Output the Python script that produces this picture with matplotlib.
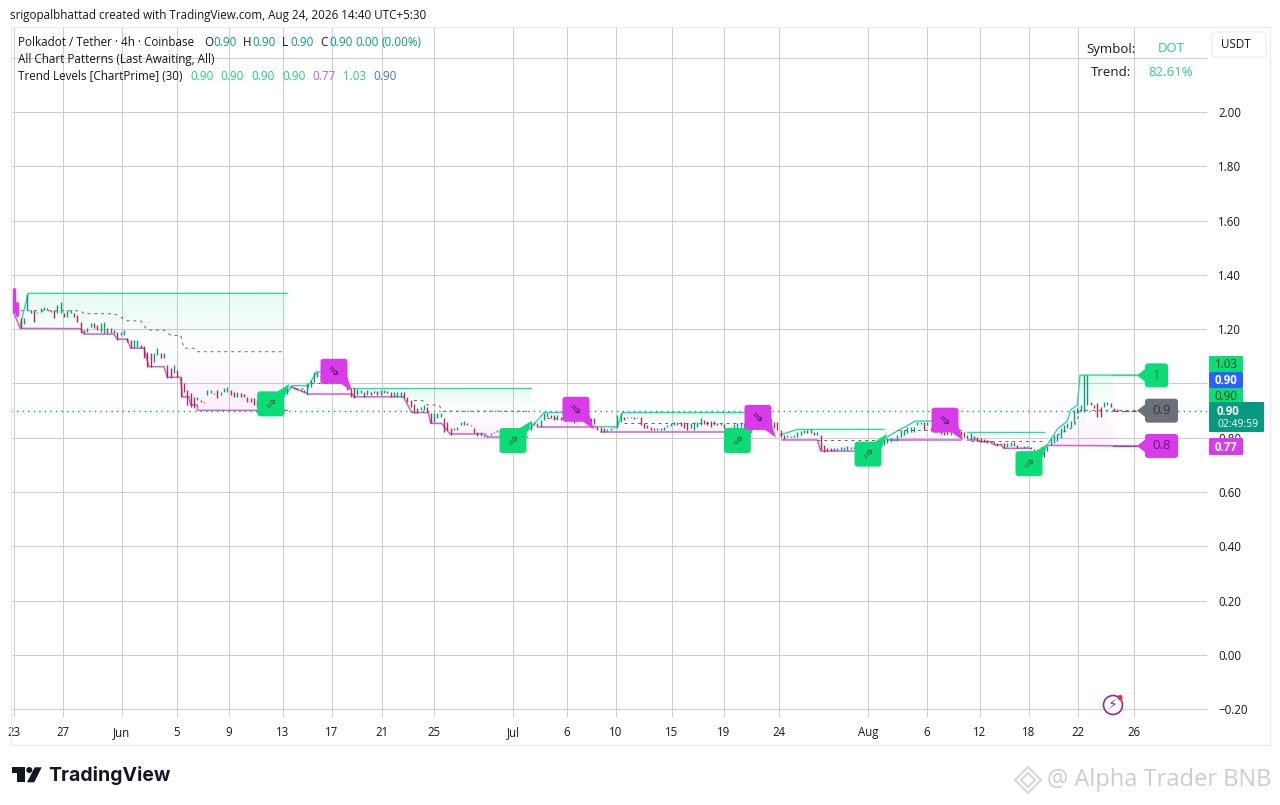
import numpy as np
import matplotlib
matplotlib.use('Agg')
import matplotlib.pyplot as plt
from matplotlib.patches import FancyBboxPatch, Polygon, Circle, Rectangle

plt.rcParams['font.family'] = ['Open Sans', 'DejaVu Sans']

# candle ranges, one pair per candle
candle_high = [1.35,1.30,1.24,1.24,1.33,1.27,1.27,1.264,1.277,1.283,1.277,1.271,1.271,1.289,1.30,1.258,1.271,1.271,1.258,1.252,
    1.228,1.197,1.203,1.222,1.222,1.215,1.222,1.228,1.203,1.203,1.197,1.191,1.191,1.197,1.166,1.16,1.16,1.16,1.142,1.138,
    1.117,1.111,1.111,1.129,1.111,1.111,1.068,1.056,1.068,1.05,1.025,1.0,.976,.964,.951,.951,.939,.933,.976,.976,
    .964,.976,.97,.982,.988,.976,.97,.97,.964,.96,.951,.945,.945,.939,.945,.95,.96,.97,.97,.964,
    .97,.97,.994,.992,.988,.982,.976,.976,1.0,1.013,1.043,1.043,1.032,1.025,1.025,1.03,1.037,1.037,1.03,1.02,
    1.0,.985,.982,.979,.976,.97,.976,.97,.973,.973,.976,.976,.973,.97,.97,.97,.97,.97,.951,.939,
    .923,.908,.915,.921,.915,.89,.89,.89,.89,.872,.859,.835,.835,.841,.859,.863,.853,.847,.835,.822,
    .822,.81,.805,.816,.822,.829,.835,.829,.829,.829,.835,.835,.835,.841,.845,.859,.859,.853,.866,.89,
    .89,.884,.884,.884,.878,.884,.89,.895,.885,.89,.89,.885,.88,.872,.872,.843,.838,.835,.832,.835,
    .841,.884,.89,.878,.878,.878,.878,.878,.878,.853,.847,.841,.835,.835,.835,.841,.847,.853,.859,.859,
    .859,.859,.853,.853,.859,.859,.872,.865,.863,.863,.863,.853,.853,.85,.829,.84,.85,.853,.853,.853,
    .86,.872,.87,.87,.87,.875,.87,.87,.86,.859,.829,.81,.81,.808,.81,.82,.825,.83,.828,.831,
    .82,.823,.81,.774,.762,.761,.761,.762,.767,.767,.77,.765,.765,.767,.775,.774,.775,.775,.774,.78,
    .782,.804,.798,.798,.795,.81,.829,.829,.841,.84,.841,.859,.859,.859,.859,.835,.835,.84,.83,.82,
    .82,.823,.83,.83,.825,.823,.81,.816,.806,.804,.798,.796,.792,.79,.786,.78,.78,.78,.78,.785,
    .786,.775,.767,.768,.768,.765,.76,.76,.765,.77,.768,.798,.81,.815,.835,.848,.853,.862,.903,.908,
    .92,1.031,1.03,.933,.92,.927,.915,.933,.933,.927,.908,.905,.903]
candle_low = [1.26,1.25,1.203,1.22,1.27,1.258,1.228,1.258,1.264,1.271,1.271,1.264,1.24,1.258,1.258,1.246,1.246,1.258,1.246,1.228,
    1.185,1.185,1.191,1.209,1.203,1.197,1.191,1.185,1.185,1.185,1.185,1.16,1.179,1.179,1.154,1.129,1.129,1.136,1.129,1.093,
    1.062,1.062,1.08,1.105,1.093,1.093,1.019,1.019,1.037,1.025,.951,.97,.921,.914,.908,.939,.933,.927,.957,.964,
    .96,.945,.957,.97,.97,.957,.951,.951,.951,.95,.933,.933,.921,.914,.93,.93,.94,.945,.95,.945,
    .95,.955,.96,.985,.982,.975,.972,.968,.958,.988,1.007,1.025,1.007,1.0,1.0,1.0,1.005,1.0,1.0,.995,
    .975,.951,.945,.958,.964,.951,.958,.958,.964,.958,.958,.964,.964,.949,.949,.951,.951,.945,.933,.915,
    .89,.89,.902,.902,.896,.853,.859,.872,.878,.822,.829,.81,.829,.829,.847,.847,.847,.845,.816,.806,
    .806,.803,.803,.81,.816,.82,.81,.816,.82,.804,.81,.816,.822,.822,.83,.829,.847,.841,.841,.866,
    .878,.872,.866,.866,.866,.866,.87,.87,.853,.87,.875,.87,.87,.859,.85,.829,.822,.822,.825,.829,
    .835,.835,.859,.866,.872,.872,.868,.872,.847,.835,.835,.829,.829,.829,.829,.829,.841,.845,.847,.847,
    .845,.835,.829,.835,.829,.841,.847,.85,.847,.841,.847,.847,.847,.835,.804,.81,.83,.835,.84,.84,
    .835,.822,.84,.84,.85,.85,.84,.84,.835,.829,.804,.794,.802,.802,.804,.804,.812,.816,.816,.816,
    .81,.81,.755,.749,.752,.752,.752,.755,.755,.755,.755,.76,.76,.76,.76,.749,.745,.75,.755,.765,
    .77,.774,.78,.786,.79,.79,.804,.81,.816,.82,.823,.847,.85,.829,.847,.825,.82,.82,.815,.81,
    .81,.81,.815,.815,.81,.804,.798,.792,.795,.79,.786,.786,.78,.78,.777,.77,.772,.761,.765,.77,
    .77,.762,.762,.762,.762,.76,.737,.74,.745,.73,.75,.775,.78,.79,.80,.82,.835,.84,.853,.89,
    .898,.896,.92,.92,.908,.878,.878,.915,.921,.915,.898,.9,.9]

# trend level segments as (candle, price)
upper_segs = [
    [(1.8,1.21),(4.2,1.332),(82,1.332)],
    [(82,.965),(83.3,.992),(88.3,.992),(90.8,1.043),(99.8,1.043)],
    [(101.8,.982),(155,.982)],
    [(154.5,.83),(158.5,.885),(159,.893),(170,.893)],
    [(175.5,.841),(181,.841),(182.5,.893),(219.5,.893)],
    [(229.8,.81),(235,.831),(261,.831)],
    [(260,.79),(265,.825),(270.5,.862),(277,.862)],
    [(286,.822),(309,.822)],
    [(310.3,.78),(313,.832),(316,.862),(317,.903),(319,.92),(319.8,1.031),(336.8,1.031)],
]
lower_segs = [
    [(0,1.26),(1.8,1.203),(20,1.202),(21,1.182),(30,1.182),(31,1.163),(34,1.163),(35,1.13),(39,1.13),(40.5,1.062),(45,1.062),(46,1.023),(50,1.023),
     (50.5,.951),(52.5,.951),(53,.921),(55,.921),(55,.901),(82,.901)],
    [(83.3,.988),(88.3,.961),(101.5,.961),(102,.951)],
    [(102,.951),(116.8,.951),(119.3,.893),(124.3,.893),(125,.853),(128.3,.853),(130.8,.814),(141.3,.814),(142,.803),(154,.803)],
    [(157.5,.841),(175,.841)],
    [(176,.8226),(213,.8226)],
    [(230.4,.792),(241,.792),(242,.751),(252,.751)],
    [(262,.792),(284,.792)],
    [(286,.792),(289,.792),(290,.786),(293,.786),(294,.774),(296,.774),(297,.761),(305,.761)],
    [(309.8,.772),(336.8,.77)],
]
mid_segs = [
    [(2,1.268),(20,1.268),(21,1.257),(30,1.257),(32,1.245),(34,1.231),(38,1.231),(40,1.197),(45,1.197),(47,1.177),(50,1.177),(51,1.13),(54,1.13),(55,1.117),(81,1.117)],
    [(84,.98),(88,.98),(89,1.0),(98,1.0)],
    [(120,.937),(122.5,.937),(124,.921),(127.5,.921),(128.5,.898),(155,.898)],
    [(160,.872),(170,.872)],
    [(183,.855),(220,.855)],
    [(241,.792),(260,.792)],
    [(265,.83),(285,.83)],
    [(287,.79),(309,.79)],
    [(313,.81),(318,.84),(320,.901),(336.8,.901)],
]
fill_mid = [1.117,1.0,.898,.872,.855,.792,.83,.79,.901]
fill_end = [82,99.8,155,170,219.5,252,277,305,329.8]

signal_up = [(77,.925),(149.7,.79),(217,.79),(256.2,.74),(304.5,.705)]
signal_down = [(96,1.045),(168.6,.905),(223.2,.875),(279.3,.865)]
last_values = [('1',1.03,'#0bdc78','#167a4c'),('0.9',.90,'#6e7079','#33353b'),('0.8',.77,'#d93bea','#5e1f75')]

x_ticks = [0,14.7,32.4,48.9,64.5,80.7,95.4,110.4,126,149.7,165.9,180.6,197.4,213,229.5,256.2,273.9,289.8,304.5,319.2,336]
x_labels = ['23','27','Jun','5','9','13','17','21','25','Jul','6','10','15','19','24','Aug','6','12','18','22','26']
y_ticks = [-.2,0,.2,.4,.6,.8,1.0,1.2,1.4,1.6,1.8,2.0,2.2]
y_labels = ['\u22120.20','0.00','0.20','0.40','0.60','0.80','','1.20','1.40','1.60','1.80','2.00','']

GREEN = '#0bdc78'
MAGENTA = '#d93bea'
TEAL = '#089981'
RED = '#a8304f'
GRID = '#cdcdcd'
INK = '#131722'

fig = plt.figure(figsize=(12.8, 8.05), dpi=100)
ax = fig.add_axes([11/1280, 88/805, 1196/1280, 690/805])
ax.set_xlim(-0.9, 357.9)
ax.set_ylim(-0.2284, 2.3131)

for s in ax.spines.values():
    s.set_visible(False)
ax.grid(True, color=GRID, lw=0.75)
ax.set_axisbelow(True)
ax.set_xticks(x_ticks)
ax.set_xticklabels(x_labels, fontsize=8.3, color=INK)
ax.yaxis.tick_right()
ax.set_yticks(y_ticks)
ax.set_yticklabels(y_labels, fontsize=8.3, color=INK)
ax.tick_params(axis='both', length=0)
ax.tick_params(axis='x', pad=6.5)
ax.tick_params(axis='y', pad=8)

# gradient fills between the trend levels
for up, low, mid, end in zip(upper_segs, lower_segs, fill_mid, fill_end):
    ux, uy = zip(*up)
    lx, ly = zip(*low)
    start = max(ux[0], lx[0])
    xs = np.linspace(start, end, 400)
    yu = np.interp(xs, ux, uy)
    yl = np.interp(xs, lx, ly)
    poly = ax.fill_between(xs, yl, yu, color='none', lw=0)
    hi, lo = max(uy), min(ly)
    rows = np.linspace(hi, lo, 256)
    img = np.zeros((256, 1, 4))
    above = rows >= mid
    img[above, 0, :3] = matplotlib.colors.to_rgb(GREEN)
    img[above, 0, 3] = 0.10 * (rows[above] - mid) / max(hi - mid, 1e-6)
    img[~above, 0, :3] = matplotlib.colors.to_rgb(MAGENTA)
    img[~above, 0, 3] = 0.08 * (mid - rows[~above]) / max(mid - lo, 1e-6)
    im = ax.imshow(img, extent=(start, end, lo, hi), aspect='auto', zorder=1, interpolation='bilinear')
    im.set_clip_path(poly.get_paths()[0], transform=ax.transData)
ax.set_xlim(-0.9, 357.9)
ax.set_ylim(-0.2284, 2.3131)

# level lines
for seg in upper_segs:
    ax.plot(*zip(*seg), color='#35d6a0', lw=1.0, zorder=2)
for seg in lower_segs:
    ax.plot(*zip(*seg), color='#c765d6', lw=1.1, zorder=2)
for seg in mid_segs:
    ax.plot(*zip(*seg), color='#666666', lw=0.7, ls=(0, (3, 4)), zorder=2)

# candles
low = np.array(candle_low)
high = np.array(candle_high)
mids = (low + high) / 2
rising = np.r_[False, mids[1:] >= mids[:-1]]
colors = [TEAL if r else RED for r in rising]
ax.vlines(np.arange(len(low)), low, high, colors=colors, lw=1.0, zorder=3)
ax.vlines([0, 0.8], [1.26, 1.25], [1.35, 1.30], colors=MAGENTA, lw=2.5, zorder=3)

ax.axhline(.90, color=TEAL, lw=1.0, ls=(0, (1, 3)), zorder=2)

# overlay in screen pixels for the tags and the page furniture
ov = fig.add_axes([0, 0, 1, 1], zorder=5)
ov.set_xlim(0, 1280)
ov.set_ylim(805, 0)
ov.axis('off')
ov.patch.set_alpha(0)

def to_px(n, p):
    x, y = ax.transData.transform((n, p))
    return x, 805 - y

def box(x0, y0, w, h, color, r=2, z=6, ec='none', lw=0):
    ov.add_patch(FancyBboxPatch((x0 + r, y0 + r), w - 2*r, h - 2*r, boxstyle='round,pad=%f,rounding_size=%f' % (r, r),
                                fc=color, ec=ec, lw=lw, zorder=z, mutation_aspect=1))

def label(x, y, s, color=INK, size=8.4, ha='left', **kw):
    ov.text(x, y, s, color=color, fontsize=size, ha=ha, va='center', zorder=9, **kw)

ov.add_patch(Rectangle((11, 27), 1259, 718, fc='none', ec='#ececec', lw=1, zorder=0))

# signal boxes
for n, p in signal_up:
    x, y = to_px(n, p)
    box(x - 13.5, y - 12.5, 27, 25, '#0bdc78', r=3)
    ov.add_patch(Polygon([(x + 7, y - 12.5), (x + 19, y - 20), (x + 13.5, y - 6)], fc='#0bdc78', zorder=6))
    label(x, y, '\u21d7', '#14693f', 10, ha='center', family='DejaVu Sans')
for n, p in signal_down:
    x, y = to_px(n, p)
    box(x - 13.5, y - 12.5, 27, 25, '#d93bea', r=3)
    ov.add_patch(Polygon([(x + 7, y + 12.5), (x + 18, y + 20), (x + 13.5, y + 6)], fc='#d93bea', zorder=6))
    label(x, y, '\u21d8', '#4a1a5e', 10, ha='center', family='DejaVu Sans')

# last value tags
tag_w = [23, 33, 33]
for (txt, p, fc, tc), w in zip(last_values, tag_w):
    _, y = to_px(0, p)
    box(1145, y - 12, w, 24, fc, r=3)
    ov.add_patch(Polygon([(1137, y), (1146, y - 7), (1146, y + 7)], fc=fc, zorder=6))
    label(1145 + w/2, y, txt, tc, 9.5, ha='center')
for p, fc in [(1.03, '#35d6a0'), (.77, '#a83fbb')]:
    _, y = to_px(0, p)
    ov.plot([1113, 1138], [y, y], color=fc, lw=1.0, zorder=4)
_, y = to_px(0, .90)
ov.plot([1113, 1138], [y, y], color='#666666', lw=0.8, ls=(0, (5, 3)), zorder=4)

# price scale flags
box(1209, 356, 34, 16, GREEN, r=1)
label(1226, 364.5, '1.03', '#10431f', 8.3, ha='center')
box(1209, 372, 34, 16, '#2962ff', r=1, z=6.2)
label(1226, 380.5, '0.90', 'white', 8.3, ha='center', weight='bold')
box(1209, 388, 34, 14, GREEN, r=1)
label(1226, 396, '0.90', '#10431f', 8.3, ha='center')
box(1209, 402, 55, 30, TEAL, r=1, z=6.3)
label(1217, 411, '0.90', 'white', 8.3, weight='bold')
label(1217, 424, '02:49:59', 'white', 7.5)
box(1209, 438, 34, 17, MAGENTA, r=1, z=6.4)
label(1226, 447, '0.77', 'white', 8.3, ha='center', weight='bold')

# header and legend
label(10, 15.5, 'srigopalbhattad created with TradingView.com, Aug 24, 2026 14:40 UTC+5:30')
label(18, 43, 'Polkadot / Tether \u00b7 4h \u00b7 Coinbase')
for x, s in [(204, 'O'), (243, 'H'), (282, 'L'), (320, 'C')]:
    label(x, 43, s)
for x, s in [(213, '0.90'), (252, '0.90'), (290, '0.90'), (329, '0.90'), (355, '0.00'), (382, '(0.00%)')]:
    label(x, 43, s, TEAL)
label(18, 60, 'All Chart Patterns (Last Awaiting, All)')
label(18, 76, 'Trend Levels [ChartPrime] (30)')
level_colors = ['#1fcf85'] * 4 + ['#c85bd6', '#1fcf85', '#4a6fc9']
for x, s, c in zip([190, 220, 251, 282, 312, 343, 373], ['0.90', '0.90', '0.90', '0.90', '0.77', '1.03', '0.90'], level_colors):
    label(x, 76, s, c)

# symbol table
label(1086, 49, 'Symbol:', size=9.5)
label(1171, 49, 'DOT', '#2fc98f', 9.5, ha='center')
label(1091, 73, 'Trend:', size=9.5)
label(1171, 73, '82.61%', '#2fc98f', 9.5, ha='center')
box(1212, 32, 54, 25, 'white', r=3, ec='#eeeeee', lw=1)
label(1221, 45, 'USDT', size=8.4)

# bolt icon
ov.add_patch(Circle((1113, 705), 9.5, fc='white', ec='#8a2aa8', lw=1.2, zorder=6))
ov.add_patch(Circle((1120, 697.5), 2.6, fc='#d9363e', ec='none', zorder=7))
label(1113, 705, '\u26a1', '#8a2aa8', 10, ha='center', family='DejaVu Sans')

# logo
ov.add_patch(Polygon([(11.7, 767.3), (25, 767.3), (25, 782.3), (17.3, 782.3), (17.3, 773.3), (11.7, 773.3)], fc=INK, ec='none'))
ov.add_patch(Circle((29.3, 770), 3, fc=INK, ec='none'))
ov.add_patch(Polygon([(34.7, 767.3), (41.7, 767.3), (34.3, 782.3), (27, 782.3)], fc=INK, ec='none'))
label(48, 775, 'TradingView', INK, 14, family='Inter', weight='bold')

# watermark
for r in (13, 7):
    ov.add_patch(Polygon([(1028, 780 - r), (1028 + r, 780), (1028, 780 + r), (1028 - r, 780)], fc='none', ec='#d9d9d9', lw=1.6))
label(1047, 780, '@ Alpha Trader BNB', '#cdcdcd', 17)

fig.savefig('out.png', dpi=100)
